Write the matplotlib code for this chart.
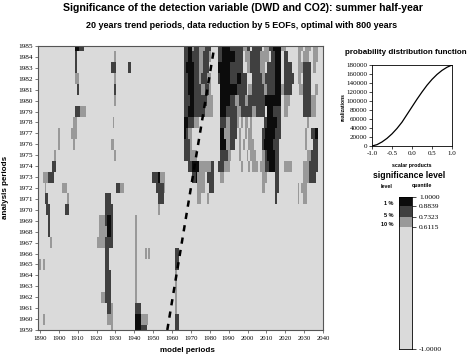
import matplotlib
matplotlib.use("Agg")
import matplotlib.pyplot as plt
import numpy as np
from matplotlib.colors import BoundaryNorm, ListedColormap

# axes categories
model_years = np.arange(1889, 2041)
analysis_years = np.arange(1959, 1986)

# significance cells as (analysis year, first model year, last model year)
sig10_cells = [
    (1985, 1971, 1971), (1985, 1975, 1977), (1985, 1998, 1999), (1985, 2009, 2011),
    (1985, 2018, 2020), (1985, 2027, 2029), (1985, 2031, 2033), (1985, 2035, 2037),
    (1984, 1930, 1930), (1984, 1975, 1976), (1984, 1980, 1980), (1984, 1999, 2001),
    (1984, 2007, 2011), (1984, 2027, 2028), (1984, 2030, 2032), (1984, 2035, 2037),
    (1983, 1975, 1976), (1983, 2000, 2001), (1983, 2007, 2009), (1983, 2027, 2029),
    (1983, 2035, 2036),
    (1982, 1909, 1910), (1982, 1930, 1930), (1982, 1975, 1975), (1982, 1979, 1980),
    (1982, 2008, 2009), (1982, 2027, 2028),
    (1981, 1976, 1977), (1981, 1980, 1980), (1981, 2001, 2002), (1981, 2009, 2010),
    (1981, 2018, 2019), (1981, 2028, 2029), (1981, 2036, 2037),
    (1980, 1930, 1930), (1980, 1979, 1981), (1980, 1994, 1995), (1980, 1999, 2000),
    (1980, 2020, 2022), (1980, 2034, 2036),
    (1979, 1912, 1914), (1979, 1978, 1981), (1979, 1995, 1996), (1979, 2003, 2004),
    (1979, 2020, 2021), (1979, 2034, 2036),
    (1978, 1908, 1909), (1978, 1929, 1929), (1978, 1972, 1974), (1978, 1989, 1990),
    (1978, 1995, 1995), (1978, 1997, 1997), (1978, 1999, 2000), (1978, 2002, 2002),
    (1978, 2032, 2032),
    (1977, 1900, 1900), (1977, 1907, 1909), (1977, 1969, 1970), (1977, 1988, 1990),
    (1977, 1996, 1996), (1977, 1999, 1999), (1977, 2001, 2002), (1977, 2031, 2031),
    (1976, 1900, 1900), (1976, 1908, 1908), (1976, 1928, 1929), (1976, 1970, 1970),
    (1976, 1989, 1990), (1976, 1996, 1996), (1976, 1998, 1998), (1976, 2001, 2003),
    (1976, 2031, 2031),
    (1975, 1898, 1898), (1975, 1930, 1930), (1975, 1970, 1973), (1975, 1990, 1991),
    (1975, 1996, 1996), (1975, 2000, 2000), (1975, 2002, 2004), (1975, 2008, 2009),
    (1975, 2032, 2033),
    (1974, 1975, 1980), (1974, 1988, 1990), (1974, 1997, 1997), (1974, 2001, 2001),
    (1974, 2003, 2005), (1974, 2007, 2009), (1974, 2020, 2023), (1974, 2030, 2032),
    (1973, 1892, 1894), (1973, 1954, 1956), (1973, 1974, 1977), (1973, 1986, 1987),
    (1973, 2008, 2010), (1973, 2030, 2032),
    (1972, 1893, 1893), (1972, 1902, 1904), (1972, 1933, 1934), (1972, 1956, 1956),
    (1972, 1974, 1977), (1972, 2008, 2009), (1972, 2027, 2027), (1972, 2029, 2031),
    (1971, 1905, 1905), (1971, 1974, 1975), (1971, 1979, 1979), (1971, 2027, 2027),
    (1971, 2030, 2031),
    (1970, 1953, 1953),
    (1969, 1922, 1924), (1969, 1941, 1941),
    (1968, 1922, 1925), (1968, 1941, 1941),
    (1967, 1896, 1896), (1967, 1921, 1924), (1967, 1941, 1941),
    (1966, 1941, 1941), (1966, 1946, 1946), (1966, 1948, 1948),
    (1965, 1890, 1890), (1965, 1892, 1892), (1965, 1941, 1941),
    (1964, 1941, 1941), (1964, 1962, 1962),
    (1963, 1941, 1941), (1963, 1962, 1962),
    (1962, 1923, 1924), (1962, 1941, 1941), (1962, 1962, 1962),
    (1961, 1928, 1928), (1961, 1962, 1962),
    (1960, 1892, 1892), (1960, 1926, 1928), (1960, 1944, 1947),
    (1959, 1928, 1928),
]

sig5_cells = [
    (1985, 1911, 1913), (1985, 1967, 1968), (1985, 1972, 1974), (1985, 1978, 1980),
    (1985, 1985, 1986), (1985, 1991, 1997), (1985, 2000, 2001), (1985, 2003, 2007),
    (1985, 2012, 2013),
    (1984, 1909, 1909), (1984, 1967, 1968), (1984, 1971, 1974), (1984, 1977, 1979),
    (1984, 1985, 1986), (1984, 1990, 1991), (1984, 1994, 1997), (1984, 2002, 2006),
    (1984, 2013, 2014), (1984, 2020, 2021),
    (1983, 1909, 1909), (1983, 1928, 1930), (1983, 1937, 1938), (1983, 1967, 1967),
    (1983, 1972, 1974), (1983, 1977, 1979), (1983, 1988, 1997), (1983, 2002, 2006),
    (1983, 2011, 2014), (1983, 2020, 2023), (1983, 2030, 2033),
    (1982, 1967, 1968), (1982, 1972, 1974), (1982, 1976, 1978), (1982, 1985, 1986),
    (1982, 1991, 1994), (1982, 1997, 1999), (1982, 2003, 2007), (1982, 2010, 2014),
    (1982, 2020, 2024), (1982, 2030, 2033),
    (1981, 1910, 1910), (1981, 1930, 1930), (1981, 1967, 1968), (1981, 1972, 1975),
    (1981, 1978, 1979), (1981, 1987, 1991), (1981, 1995, 1999), (1981, 2003, 2008),
    (1981, 2011, 2014), (1981, 2020, 2023), (1981, 2030, 2033),
    (1980, 1967, 1969), (1980, 1972, 1978), (1980, 1988, 1993), (1980, 1996, 1998),
    (1980, 2001, 2013), (1980, 2030, 2033),
    (1979, 1909, 1911), (1979, 1967, 1968), (1979, 1972, 1977), (1979, 1987, 1994),
    (1979, 1997, 2002), (1979, 2005, 2009), (1979, 2013, 2017), (1979, 2030, 2033),
    (1978, 1967, 1971), (1978, 1986, 1988), (1978, 1991, 1994), (1978, 2009, 2011),
    (1978, 2016, 2017),
    (1977, 1967, 1968), (1977, 1991, 1994), (1977, 2008, 2009), (1977, 2015, 2017),
    (1977, 2034, 2035),
    (1976, 1967, 1969), (1976, 1991, 1993), (1976, 2008, 2009), (1976, 2013, 2016),
    (1976, 2035, 2037),
    (1975, 1967, 1969), (1975, 1986, 1989), (1975, 2010, 2016), (1975, 2034, 2037),
    (1974, 1897, 1898), (1974, 1969, 1970), (1974, 1981, 1982), (1974, 1985, 1987),
    (1974, 2010, 2016), (1974, 2033, 2037),
    (1973, 1895, 1897), (1973, 1950, 1952), (1973, 1971, 1972), (1973, 1979, 1982),
    (1973, 2015, 2016), (1973, 2033, 2036),
    (1972, 1931, 1932), (1972, 1952, 1955), (1972, 1980, 1982), (1972, 2015, 2016),
    (1971, 1893, 1894), (1971, 1925, 1927), (1971, 1953, 1955), (1971, 2015, 2015),
    (1970, 1894, 1895), (1970, 1904, 1905), (1970, 1925, 1928),
    (1969, 1895, 1895), (1969, 1925, 1925), (1969, 1928, 1928),
    (1968, 1895, 1895), (1968, 1928, 1928),
    (1967, 1925, 1928),
    (1966, 1925, 1926), (1966, 1962, 1963),
    (1965, 1925, 1926), (1965, 1962, 1963),
    (1964, 1925, 1927),
    (1963, 1925, 1927),
    (1962, 1925, 1927),
    (1961, 1926, 1927), (1961, 1941, 1943),
    (1960, 1962, 1963),
    (1959, 1944, 1946), (1959, 1962, 1963),
]

sig1_cells = [
    (1985, 1909, 1910), (1985, 1969, 1970), (1985, 1987, 1990), (1985, 2014, 2017),
    (1984, 1969, 1970), (1984, 1987, 1991), (1984, 1992, 1993), (1984, 2015, 2017),
    (1983, 1968, 1971), (1983, 1985, 1990), (1983, 2015, 2017),
    (1982, 1969, 1971), (1982, 1986, 1990), (1982, 1995, 1996), (1982, 2015, 2017),
    (1981, 1969, 1971), (1981, 1986, 1991), (1981, 1992, 1994), (1981, 2015, 2017),
    (1980, 1970, 1971), (1980, 1986, 1990), (1980, 2010, 2013), (1980, 2014, 2017),
    (1979, 1969, 1971), (1979, 1986, 1988), (1979, 2011, 2013),
    (1978, 1967, 1968), (1978, 2011, 2015),
    (1977, 1967, 1967), (1977, 1986, 1987), (1977, 2010, 2014), (1977, 2036, 2037),
    (1976, 1986, 1988), (1976, 2009, 2013),
    (1975, 2011, 2014),
    (1974, 1971, 1974), (1974, 2012, 2014),
    (1973, 1953, 1953), (1973, 1973, 1973),
    (1969, 1926, 1927), (1968, 1926, 1927),
    (1960, 1941, 1943), (1959, 1941, 1943),
]

# 1:1 line between model and analysis periods
dash_x = [1957.5, 1982.5]
dash_y = [1959, 1985]

# distribution of scalar products
cdf_x = [-1.0, -0.875, -0.75, -0.625, -0.5, -0.375, -0.25, -0.125, 0.0,
         0.125, 0.25, 0.375, 0.5, 0.625, 0.75, 0.875, 1.0]
cdf_y = [0, 3000, 9000, 17000, 27000, 39000, 53000, 70000, 87000,
         104000, 120000, 135000, 148000, 159000, 168000, 175000, 180000]

# significance levels
quantiles = [-1.0, 0.6115, 0.7323, 0.8839, 1.0]
level_labels = ["10 %", "5 %", "1 %"]
level_colors = ["#dadada", "#999999", "#404040", "#0c0c0c"]

plt.rcParams["axes.unicode_minus"] = False
serif = "Liberation Serif"
sans = "Liberation Sans"

grid = np.zeros((len(analysis_years), len(model_years)))
for level, cells in enumerate([sig10_cells, sig5_cells, sig1_cells], start=1):
    for row, x0, x1 in cells:
        i = row - analysis_years[0]
        j0 = x0 - model_years[0]
        j1 = x1 - model_years[0]
        grid[i, j0:j1 + 1] = np.maximum(grid[i, j0:j1 + 1], level)

cmap = ListedColormap(level_colors)
norm = BoundaryNorm([-0.5, 0.5, 1.5, 2.5, 3.5], cmap.N)

fig = plt.figure(figsize=(4.74, 3.55), dpi=100)

ax = fig.add_axes([38 / 474, 1 - 330 / 355, 285 / 474, 284 / 355])
x_edges = np.append(model_years - 0.5, model_years[-1] + 0.5)
y_edges = np.append(analysis_years - 0.5, analysis_years[-1] + 0.5)
ax.pcolormesh(x_edges, y_edges, grid, cmap=cmap, norm=norm)
ax.plot(dash_x, dash_y, color="black", lw=1.8, dashes=(2.5, 2.5))
ax.set_xlim(1889, 2040)
ax.set_ylim(1959, 1985)
ax.set_xticks(np.arange(1890, 2041, 10))
ax.set_yticks(analysis_years)
for lab in ax.get_xticklabels():
    lab.set_fontfamily(serif)
    lab.set_fontsize(4.8)
for lab in ax.get_yticklabels():
    lab.set_fontfamily(serif)
    lab.set_fontsize(5.2)
ax.tick_params(length=2.5, width=0.5, pad=1.5, color="#444444")
for s in ax.spines.values():
    s.set_color("#555555")
    s.set_linewidth(0.8)

fig.text(243 / 474, 1 - 8 / 355, "Significance of the detection variable (DWD and CO2): summer half-year",
         ha="center", va="center", fontsize=7.6, fontweight="bold", family=sans)
fig.text(242 / 474, 1 - 25 / 355, "20 years trend periods, data reduction by 5 EOFs, optimal with 800 years",
         ha="center", va="center", fontsize=6.5, fontweight="bold", family=sans)
fig.text(187 / 474, 1 - 350 / 355, "model periods", ha="center", va="center",
         fontsize=5.8, fontweight="bold", family=sans)
fig.text(6 / 474, 1 - 187 / 355, "analysis periods", ha="center", va="center",
         rotation=90, fontsize=5.8, fontweight="bold", family=sans)

# probability distribution function
ax2 = fig.add_axes([372 / 474, 1 - 146 / 355, 80 / 474, 81 / 355])
ax2.plot(cdf_x, cdf_y, color="black", lw=0.9)
ax2.set_xlim(-1, 1)
ax2.set_ylim(0, 180000)
ax2.set_xticks([-1.0, -0.5, 0.0, 0.5, 1.0])
ax2.set_xticklabels(["-1.0", "-0.5", "0.0", "0.5", "1.0"])
ax2.set_yticks(np.arange(0, 180001, 20000))
for lab in ax2.get_xticklabels() + ax2.get_yticklabels():
    lab.set_fontfamily(serif)
    lab.set_fontsize(5.0)
ax2.tick_params(length=2, width=0.5, pad=1.5)
for s in ax2.spines.values():
    s.set_linewidth(0.6)
fig.text(406 / 474, 1 - 52 / 355, "probability distribution function", ha="center", va="center",
         fontsize=5.8, fontweight="bold", family=sans)
fig.text(343 / 474, 1 - 107 / 355, "realizations", ha="center", va="center", rotation=90,
         fontsize=3.6, fontweight="bold", family=sans)
fig.text(412 / 474, 1 - 165 / 355, "scalar products", ha="center", va="center",
         fontsize=3.8, fontweight="bold", family=sans)

# significance level bar
ax3 = fig.add_axes([399 / 474, 1 - 349 / 355, 13 / 474, 152 / 355])
bar_vals = np.arange(len(quantiles) - 1).reshape(-1, 1)
ax3.pcolormesh([0, 1], quantiles, bar_vals, cmap=cmap, norm=norm)
ax3.set_xlim(0, 1)
ax3.set_ylim(-1, 1)
ax3.set_xticks([])
ax3.yaxis.tick_right()
ax3.set_yticks(quantiles)
ax3.set_yticklabels([f"{q:.4f}" for q in quantiles])
for lab in ax3.get_yticklabels():
    lab.set_fontfamily(serif)
    lab.set_fontsize(5.4)
ax3.tick_params(length=3, width=0.5, pad=2)
for s in ax3.spines.values():
    s.set_linewidth(0.6)
for q, lab in zip(quantiles[1:4], level_labels):
    ax3.text(-0.45, q + 0.025, lab, ha="right", va="center",
             fontsize=4.0, fontweight="bold", family=sans)
fig.text(409 / 474, 1 - 176 / 355, "significance level", ha="center", va="center",
         fontsize=6.2, fontweight="bold", family=sans)
fig.text(387 / 474, 1 - 186 / 355, "level", ha="center", va="center",
         fontsize=3.8, fontweight="bold", family=sans)
fig.text(422 / 474, 1 - 186 / 355, "quantile", ha="center", va="center",
         fontsize=3.8, fontweight="bold", family=sans)

fig.savefig("out.png", dpi=100)
